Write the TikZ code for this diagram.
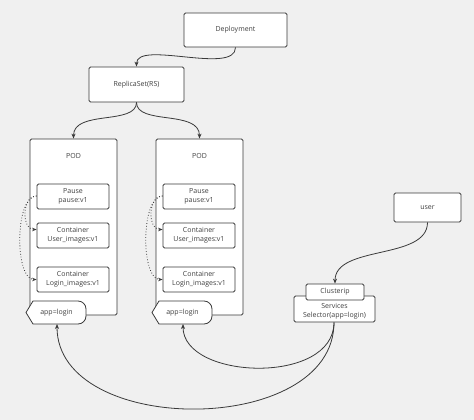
\documentclass[tikz,border=0pt]{standalone}
\usepackage{fontspec}
\setmainfont{Open Sans}
\usetikzlibrary{arrows.meta}
\definecolor{bg}{RGB}{240,240,240}
\definecolor{ln}{RGB}{58,58,58}
\definecolor{tx}{RGB}{64,64,64}
\begin{document}
\begin{tikzpicture}[x=1pt,y=-1pt,
  box/.style={draw=ln,line width=0.8pt,fill=white,rounded corners=1.5pt,inner sep=0pt,
    text=tx,font=\fontsize{7}{8.6}\selectfont,align=center},
  lbl/.style={text=tx,font=\fontsize{7}{8.6}\selectfont,align=center,inner sep=0pt},
  conn/.style={draw=ln,line width=0.8pt,-{Stealth[length=5pt,width=4pt]}},
  dots/.style={draw=ln,line width=0.8pt,dotted,-{Stealth[length=4.5pt,width=3.5pt]}},
  tagline/.style={draw=ln,line width=0.8pt,fill=white}]
\fill[bg] (0,0) rectangle (474,420);
\useasboundingbox (0,0) rectangle (474,420);

% top
\node[box,minimum width=103pt,minimum height=34pt] (dep) at (235.5,30) {Deployment};
\node[box,minimum width=95pt,minimum height=35pt] (rs) at (136.5,84.5) {ReplicaSet(RS)};

% pods
\foreach \i/\dx in {1/0,2/126}{
  \node[box,minimum width=87pt,minimum height=176pt] (pod\i) at (73.5+\dx,227) {};
  \node[lbl] (podl\i) at (73.5+\dx,156) {POD};
  \node[box,minimum width=72pt,minimum height=25pt] (pause\i) at (73+\dx,196.5) {Pause\\pause:v1};
  \node[box,minimum width=72pt,minimum height=25pt] (usr\i) at (73+\dx,235.5) {Container\\User\_images:v1};
  \node[box,minimum width=72pt,minimum height=25pt] (login\i) at (73+\dx,279.5) {Container\\Login\_images:v1};
  \draw[tagline] (26+\dx,312.5) -- (33+\dx,301) -- (78+\dx,301)
     arc[start angle=-90,end angle=0,radius=8] -- (86+\dx,316)
     arc[start angle=0,end angle=90,radius=8] -- (33+\dx,324) -- cycle;
  \node[lbl] (tag\i) at (56.5+\dx,312.5) {app=login};
  \coordinate (tagb\i) at (57+\dx,324);
  \draw[dots] ([yshift=0.5pt]pause\i.west) .. controls +(-15,0) and +(-15,0) .. ([yshift=6pt]usr\i.west);
  \draw[dots] ([yshift=0.5pt]pause\i.west) .. controls +(-22,0) and +(-22,0) .. (login\i.west);
}

% user / service
\node[box,minimum width=67pt,minimum height=29pt] (user) at (427.5,207.5) {user};
\node[box,minimum width=81pt,minimum height=26pt,text depth=0pt] (svc) at (334.5,309) {\\[-1pt]Services\\Selector(app=login)};
\node[box,minimum width=58pt,minimum height=16pt] (cip) at (335,292) {Clusterip};

% connectors
\draw[conn] (dep.south) .. controls +(0,28) and +(0,-27) .. (rs.north);
\draw[conn] (rs.south) .. controls +(0,23) and +(0,-29) .. (pod1.north);
\draw[conn] (rs.south) .. controls +(0,23) and +(0,-29) .. (pod2.north);
\draw[conn] (user.south) .. controls +(0,38) and +(0,-39) .. (cip.north);
\draw[conn] ([xshift=-0.5pt]svc.south) .. controls +(0,63) and +(0,56) .. (tagb2);
\draw[conn] ([xshift=-0.5pt]svc.south) .. controls +(0,115) and +(0,113) .. (tagb1);
\end{tikzpicture}
\end{document}
